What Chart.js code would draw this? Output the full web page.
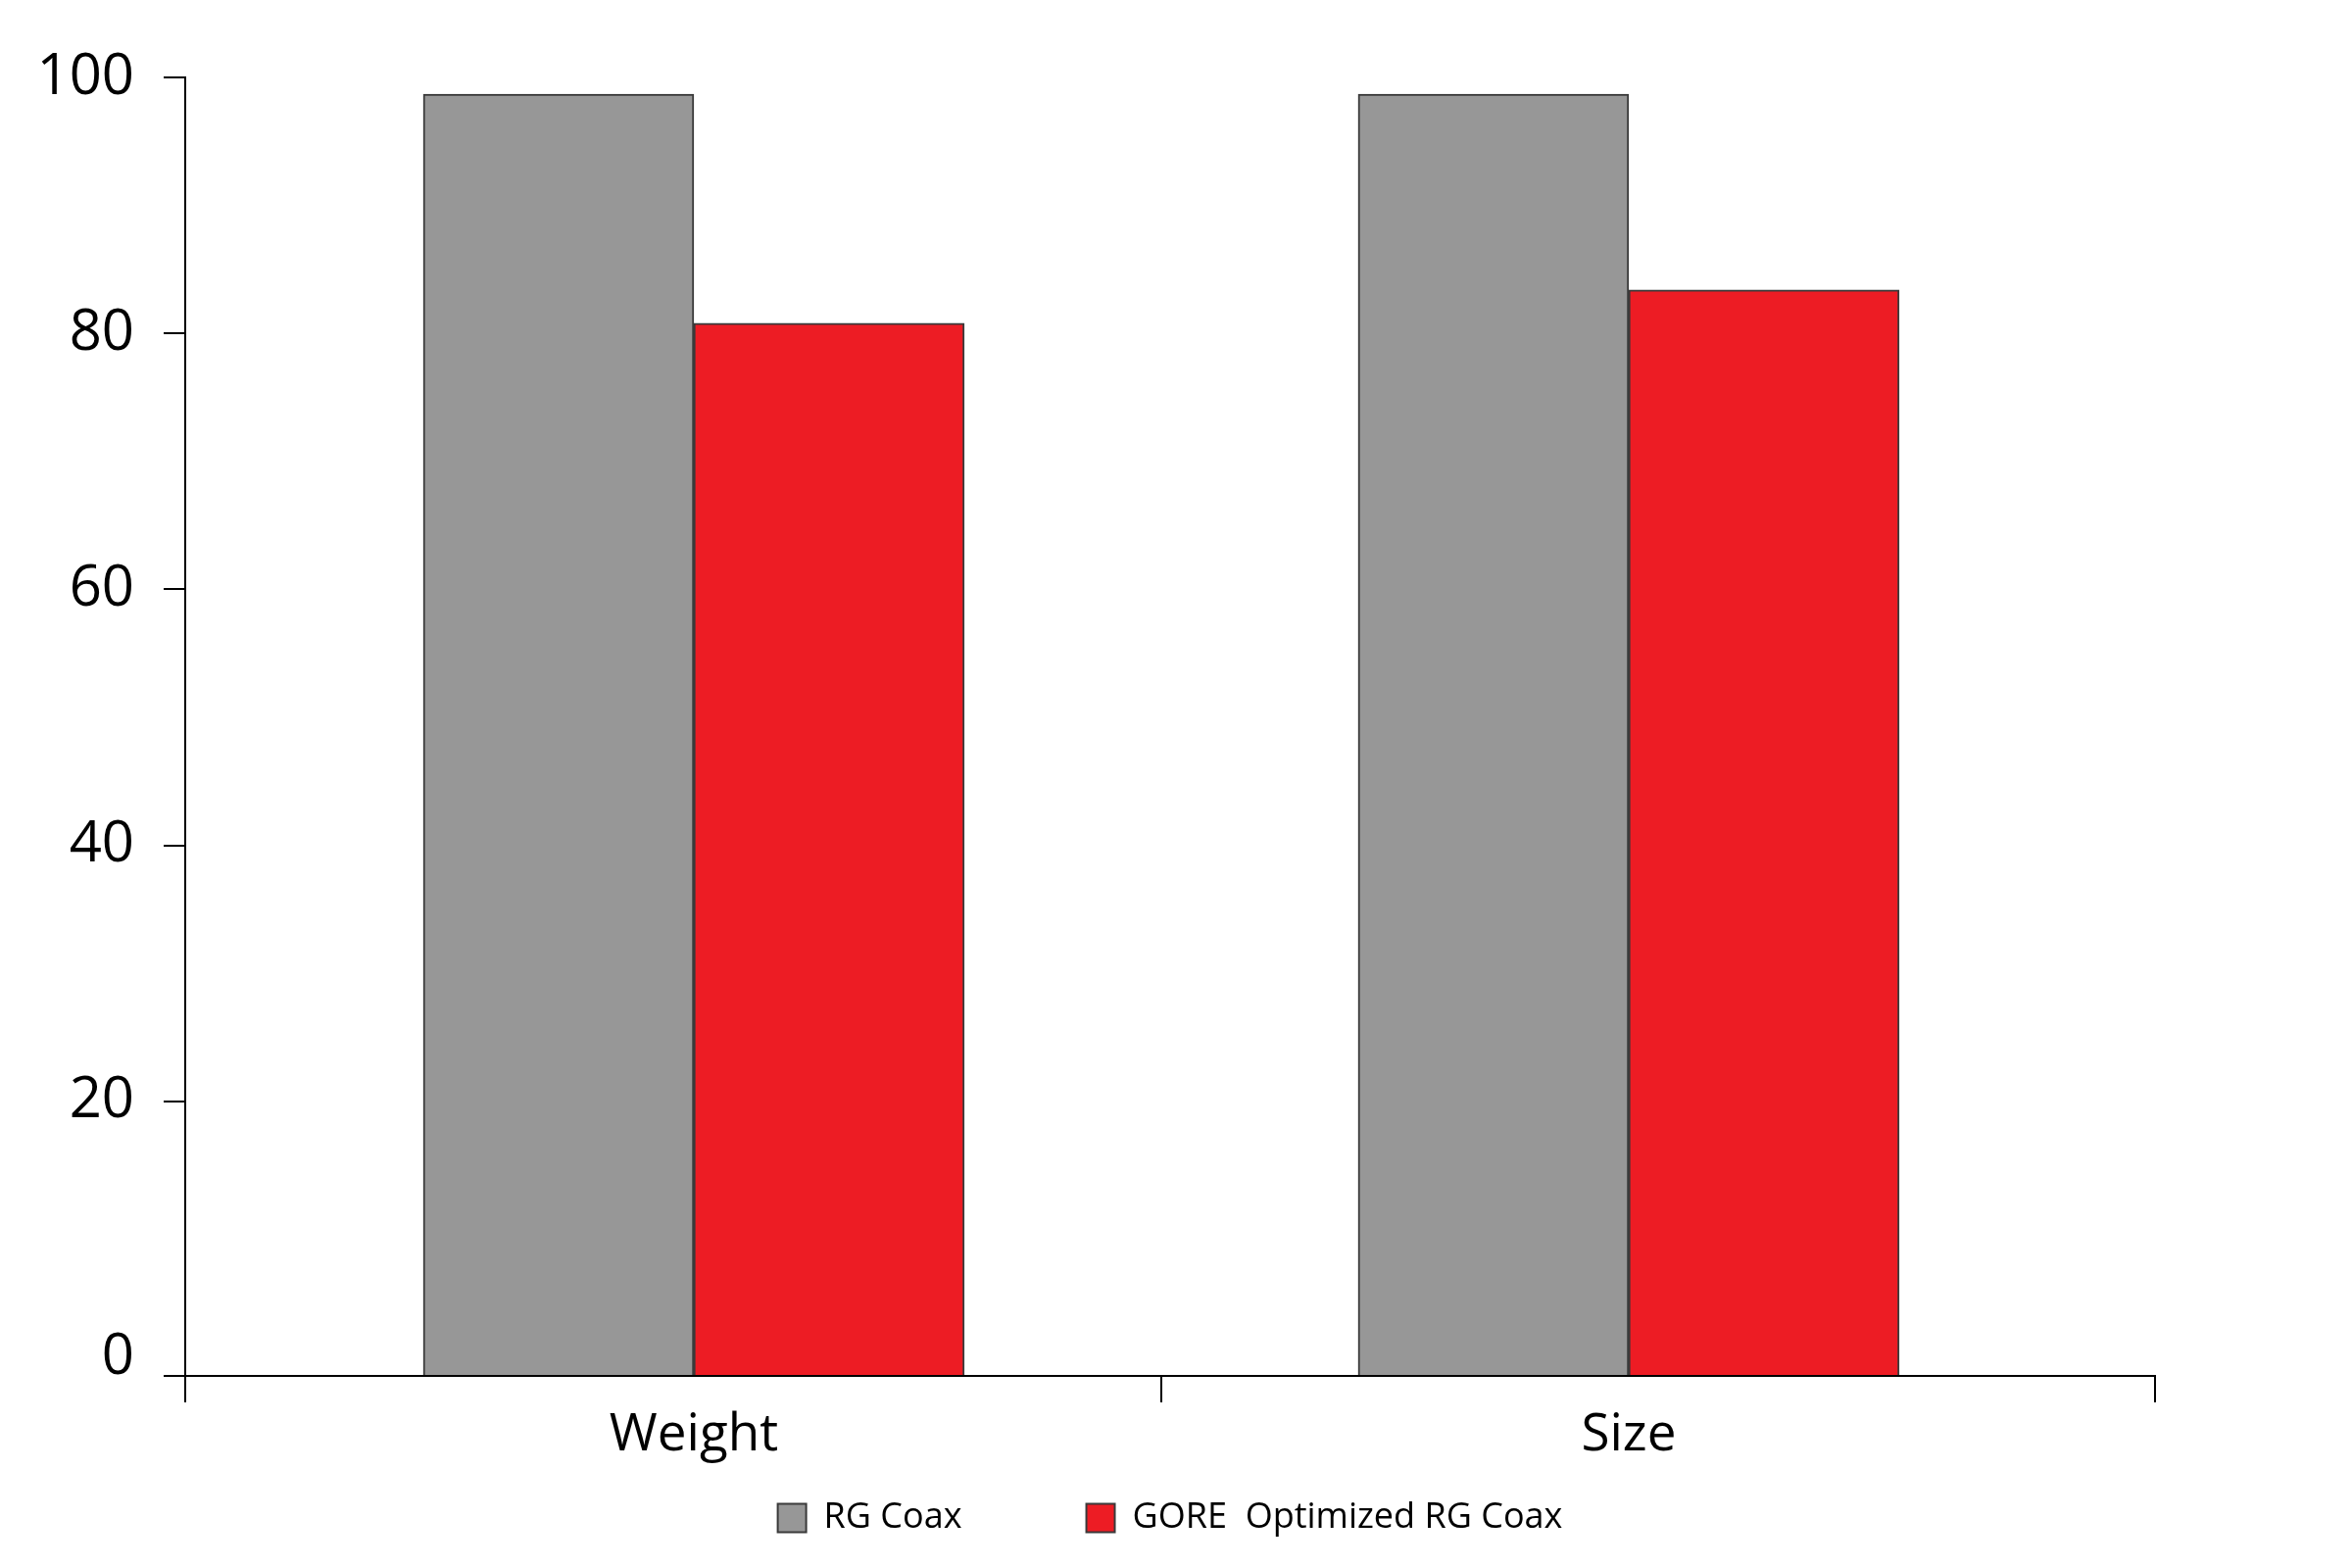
<!DOCTYPE html>
<html><head><meta charset="utf-8">
<script src="https://cdn.jsdelivr.net/npm/chart.js@4.4.1/dist/chart.umd.min.js"></script>
<style>html,body{margin:0;padding:0;background:#fff}canvas{display:block}</style>
</head><body>
<canvas id="c" width="2400" height="1600"></canvas>
<script>
// ---- data ----
const categories = ['Weight', 'Size'];
const seriesNames = ['RG Coax', 'GORE  Optimized RG Coax'];
const rgCoax = [98.7, 98.7];
const goreOptimized = [80.8, 83.4];
const yTickValues = [0, 20, 40, 60, 80, 100];

// ---- layout / style ----
const FONT = "'Open Sans', sans-serif";
const Y_MIN = -1.45, Y_MAX = 100;
const X_MIN = -0.544, X_MAX = 1.563;
const GRAY = '#979797', RED = '#ed1c24', EDGE = '#3a3a3a';
const CLEAR = 'rgba(0,0,0,0)';

const toPoints = vals => vals.map((v, i) => ({ x: i, y: v }));
const xTickValues = [X_MIN].concat(
  categories.flatMap((_, i) => i === 0 ? [i] : [i - 0.5, i]), [X_MAX]);

new Chart(document.getElementById('c'), {
  type: 'bar',
  data: {
    datasets: [
      { label: seriesNames[0], data: toPoints(rgCoax), backgroundColor: GRAY,
        borderColor: EDGE, borderWidth: 2, base: Y_MIN, barThickness: 276 },
      { label: seriesNames[1], data: toPoints(goreOptimized), backgroundColor: RED,
        borderColor: EDGE, borderWidth: 2, base: Y_MIN, barThickness: 276 }
    ]
  },
  options: {
    responsive: false,
    animation: false,
    devicePixelRatio: 1,
    layout: { padding: { left: 0, top: 79, right: 201, bottom: 23 } },
    plugins: {
      legend: {
        position: 'bottom',
        fullSize: false,
        labels: { font: { family: FONT, size: 36 }, color: '#000',
                  boxWidth: 29, boxHeight: 29, padding: 127 }
      },
      tooltip: { enabled: false }
    },
    scales: {
      x: {
        type: 'linear', min: X_MIN, max: X_MAX, offset: false,
        grid: { offset: false, drawOnChartArea: false, tickLength: 27, lineWidth: 2,
                tickColor: c => (c.tick && Number.isInteger(c.tick.value)) ? CLEAR : '#000' },
        border: { display: true, color: '#000', width: 2 },
        ticks: { autoSkip: false, maxRotation: 0, minRotation: 0, mirror: true, padding: -87,
                 font: { family: FONT, size: 53, lineHeight: 1 }, color: '#000',
                 callback: v => Number.isInteger(v) ? (categories[v] ?? '') : '' },
        afterBuildTicks: s => { s.ticks = xTickValues.map(v => ({ value: v })); },
        afterFit: s => { s.height = 0; }
      },
      y: {
        min: Y_MIN, max: Y_MAX,
        grid: { drawOnChartArea: false, tickLength: 22, lineWidth: 2,
                tickColor: c => (c.tick && c.tick.value === 0) ? CLEAR : '#000' },
        border: { display: true, color: '#000', width: 2 },
        ticks: { padding: 30, font: { family: FONT, size: 58 }, color: '#000',
                 callback: v => v < 0 ? '' : String(v) },
        afterBuildTicks: s => { s.ticks = [Y_MIN].concat(yTickValues).map(v => ({ value: v })); },
        afterFit: s => { s.width = 189; }
      }
    }
  }
});
</script>
</body></html>
